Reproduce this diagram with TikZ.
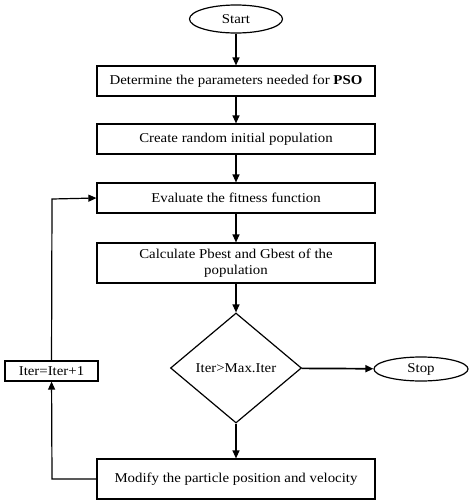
\documentclass[tikz,border=0pt]{standalone}
\usepackage{fontspec}
\setmainfont[FakeStretch=1.1]{Liberation Serif}
\usetikzlibrary{shapes.geometric,arrows.meta}
\begin{document}
\begin{tikzpicture}[x=1pt,y=-1pt,
  every node/.style={font=\fontsize{13.5}{15.5}\selectfont, inner sep=0pt, line width=1.2pt},
  procbox/.style={draw, rectangle, minimum width=278pt, align=center},
  term/.style={draw, ellipse, minimum width=93pt, minimum height=28pt},
  flow/.style={line width=1.2pt, -{Triangle[length=8pt,width=7pt]}}
]
\useasboundingbox (0,0) rectangle (474,504);
\node[term] (start) at (236,19) {Start};
\node[procbox, minimum height=30pt] (p1) at (236,81) {Determine the parameters needed for \textbf{PSO}};
\node[procbox, minimum height=30pt] (p2) at (236,139) {Create random initial population};
\node[procbox, minimum height=30pt] (p3) at (236,198) {Evaluate the fitness function};
\node[procbox, minimum height=40pt] (p4) at (236,263) {Calculate Pbest and Gbest of the\\population};
\node[draw, diamond, minimum width=131pt, minimum height=110pt, inner sep=0pt, shape aspect=1.19] (d) at (236,368) {Iter>Max.Iter};
\node[term, minimum width=94pt, minimum height=24pt] (stop) at (421,369) {Stop};
\node[draw, rectangle, minimum width=93pt, minimum height=20pt] (it) at (51.5,371) {Iter=Iter+1};
\node[procbox, minimum height=40pt] (p5) at (236,479) {Modify the particle position and velocity};
\coordinate (c1) at (52,479);
\coordinate (c2) at (52,199);
\draw[flow] (start) -- (p1);
\draw[flow] (p1) -- (p2);
\draw[flow] (p2) -- (p3);
\draw[flow] (p3) -- (p4);
\draw[flow] (p4) -- (d);
\draw[flow, line width=1.7pt] (d) -- (stop);
\draw[flow] (d) -- (p5);
\draw[flow] (p5.west) -- (c1) -- (it);
\draw[flow] (it) -- (c2) -- (p3.west);
\end{tikzpicture}
\end{document}
